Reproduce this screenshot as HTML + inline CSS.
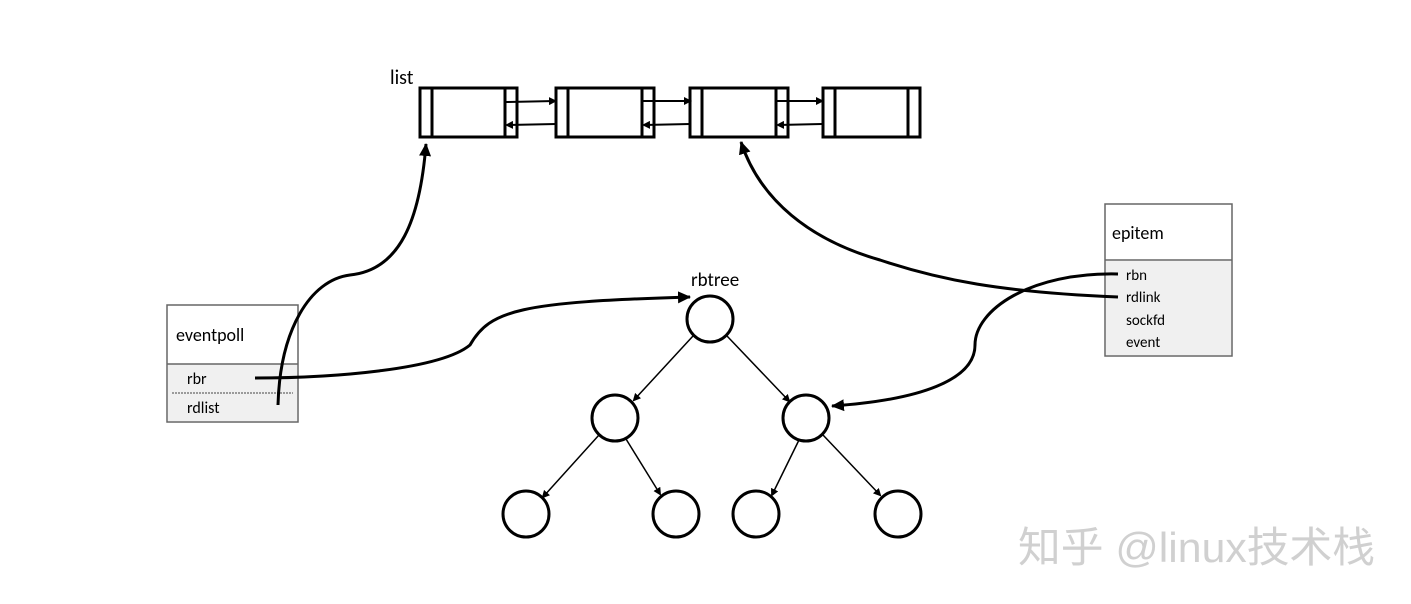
<!DOCTYPE html>
<html><head><meta charset="utf-8"><style>
body{margin:0;background:#fff;}
svg{display:block;font-family:Calibri,"Liberation Sans",sans-serif;}
</style></head><body>
<svg width="1411" height="604" viewBox="0 0 1411 604" xmlns="http://www.w3.org/2000/svg">
<defs>
<marker id="a" markerWidth="8" markerHeight="8" refX="6" refY="4" orient="auto" markerUnits="userSpaceOnUse"><path d="M0,0 L8,4 L0,8z" fill="#000"/></marker>
<marker id="b" markerWidth="14" markerHeight="14" refX="12" refY="7" orient="auto" markerUnits="userSpaceOnUse"><path d="M0,1 L13,7 L0,13z" fill="#000"/></marker>
</defs>
<text x="390" y="84" font-size="20">list</text>
<g fill="none" stroke="#000" stroke-width="3">
<rect x="420" y="88" width="97" height="49"/><line x1="432" y1="88" x2="432" y2="137"/><line x1="505" y1="88" x2="505" y2="137"/>
<rect x="556" y="88" width="98" height="49"/><line x1="568" y1="88" x2="568" y2="137"/><line x1="642" y1="88" x2="642" y2="137"/>
<rect x="690" y="88" width="98" height="49"/><line x1="702" y1="88" x2="702" y2="137"/><line x1="776" y1="88" x2="776" y2="137"/>
<rect x="823" y="88" width="97" height="49"/><line x1="835" y1="88" x2="835" y2="137"/><line x1="908" y1="88" x2="908" y2="137"/>
</g>
<g stroke="#000" stroke-width="2" fill="none">
<line x1="506" y1="102" x2="555" y2="101" marker-end="url(#a)"/>
<line x1="556" y1="124" x2="507" y2="125" marker-end="url(#a)"/>
<line x1="643" y1="101" x2="690" y2="101" marker-end="url(#a)"/>
<line x1="690" y1="124" x2="644" y2="125" marker-end="url(#a)"/>
<line x1="777" y1="101" x2="822" y2="101" marker-end="url(#a)"/>
<line x1="822" y1="124" x2="778" y2="125" marker-end="url(#a)"/>
</g>
<rect x="167" y="305" width="131" height="117" fill="#fff" stroke="#666" stroke-width="1.5"/>
<rect x="168" y="364" width="129" height="57" fill="#f0f0f0"/>
<line x1="167" y1="364" x2="298" y2="364" stroke="#666" stroke-width="1.5"/>
<line x1="172" y1="393" x2="293" y2="393" stroke="#444" stroke-width="1" stroke-dasharray="2,1"/>
<text x="176" y="341" font-size="18">eventpoll</text>
<text x="187" y="384" font-size="16">rbr</text>
<text x="187" y="413" font-size="16">rdlist</text>
<rect x="1105" y="204" width="127" height="152" fill="#fff" stroke="#666" stroke-width="1.5"/>
<rect x="1106" y="261" width="125" height="94" fill="#f0f0f0"/>
<line x1="1105" y1="260" x2="1232" y2="260" stroke="#666" stroke-width="1.5"/>
<text x="1112" y="239" font-size="18">epitem</text>
<text x="1126" y="280" font-size="15">rbn</text>
<text x="1126" y="302" font-size="15">rdlink</text>
<text x="1126" y="325" font-size="15">sockfd</text>
<text x="1126" y="347" font-size="15">event</text>
<text x="691" y="286" font-size="19">rbtree</text>
<g fill="#fff" stroke="#000" stroke-width="3">
<circle cx="710" cy="319" r="23"/><circle cx="615" cy="418" r="23"/><circle cx="806" cy="418" r="23"/>
<circle cx="526" cy="514" r="23"/><circle cx="676" cy="514" r="23"/><circle cx="756" cy="514" r="23"/><circle cx="898" cy="514" r="23"/>
</g>
<g stroke="#000" stroke-width="1.5" fill="none">
<line x1="693" y1="336" x2="634" y2="400" marker-end="url(#a)"/>
<line x1="727" y1="336" x2="789" y2="401" marker-end="url(#a)"/>
<line x1="599" y1="435" x2="543" y2="497" marker-end="url(#a)"/>
<line x1="626" y1="439" x2="660" y2="494" marker-end="url(#a)"/>
<line x1="799" y1="440" x2="772" y2="495" marker-end="url(#a)"/>
<line x1="823" y1="435" x2="880" y2="495" marker-end="url(#a)"/>
</g>
<g stroke="#000" stroke-width="3" fill="none">
<path d="M255,378 C330,378 440,370 470,345 C490,310 520,302 690,297" marker-end="url(#b)"/>
<path d="M278,405 C280,330 310,280 350,275 C400,270 420,220 426,144" marker-end="url(#b)"/>
<path d="M1118,297 C1000,292 940,280 880,260 C810,240 760,200 741,142" marker-end="url(#b)"/>
<path d="M1118,274 C1030,272 975,310 975,345 C975,380 920,400 832,406" marker-end="url(#b)"/>
</g>
<text x="1018" y="562" font-size="42" fill="#d0d0d0" textLength="357" lengthAdjust="spacingAndGlyphs" font-family="'Liberation Sans','Noto Sans CJK SC',sans-serif">知乎 @linux技术栈</text>
</svg>
</body></html>
